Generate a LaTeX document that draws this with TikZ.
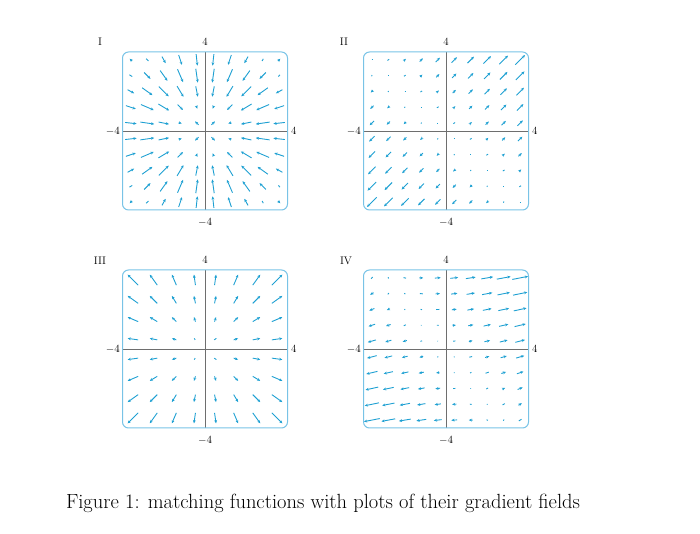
\documentclass[tikz,border=0pt]{standalone}
\usetikzlibrary{arrows.meta}
\definecolor{arr}{RGB}{30,160,210}
\definecolor{boxc}{RGB}{120,195,230}
\definecolor{axc}{RGB}{110,110,110}
\tikzset{vec/.style={arr,line width=0.9pt,-{Stealth[length=3.2pt,width=2.8pt]}},
 vecs/.style={arr,line width=0.9pt},
 pbox/.style={draw=boxc,line width=1pt,rounded corners=6pt},
 axl/.style={axc,line width=0.8pt},
 lab/.style={font=\fontsize{11}{13}\selectfont,inner sep=1pt}}
\newcommand\fieldpanel[5]{%
\foreach \gx in {#3} {\foreach \gy in {#3} {%
 \pgfmathsetmacro\myr{veclen(\gx,\gy)}%
 \pgfmathsetmacro\vx{#4}\pgfmathsetmacro\vy{#5}%
 \pgfmathsetmacro\vlen{veclen(\vx,\vy)}%
 \ifdim\vlen pt>3pt
 \draw[vec] ({#1+20.6*\gx-\vx/2},{#2+19.75*\gy-\vy/2}) -- ++(\vx,\vy);
 \else
 \draw[vecs] ({#1+20.6*\gx-\vx/2-0.3},{#2+19.75*\gy-\vy/2}) -- ++({\vx+0.6},\vy);
 \fi}}}
\newcommand\panelframe[6]{% cx cy name numeral x y
 \draw[axl] (#1-82.5,#2) -- (#1+82.5,#2);
 \draw[axl] (#1,#2-79) -- (#1,#2+79);
 \draw[pbox] (#1-82.5,#2-79) rectangle (#1+82.5,#2+79);
 \node[lab] (#3t) at (#1,#2+89) {4};
 \node[lab] (#3b) at (#1,#2-91) {$-4$};
 \node[lab,anchor=east] (#3l) at (#1-84,#2) {$-4$};
 \node[lab,anchor=west] (#3r) at (#1+85,#2) {4};
 \node[lab] (#3n) at (#5,#6) {#4};}
\begin{document}
\begin{tikzpicture}[x=1pt,y=1pt]
\useasboundingbox (0,0) rectangle (700,534);
\fieldpanel{205}{403}{-3.6,-2.8,-2,-1.2,-0.4,0.4,1.2,2,2.8,3.6}{-14*sin(deg(0.826*(\myr-1)))*\gx/\myr}{-14*sin(deg(0.826*(\myr-1)))*\gy/\myr}
\fieldpanel{446}{403}{-3.6,-2.8,-2,-1.2,-0.4,0.4,1.2,2,2.8,3.6}{1.35*(\gx+\gy)}{1.35*(\gx+\gy)}
\fieldpanel{205}{185}{-3.5,-2.5,-1.5,-0.5,0.5,1.5,2.5,3.5}{3.0*\gx}{3.0*\gy}
\fieldpanel{446}{185}{-3.6,-2.8,-2,-1.2,-0.4,0.4,1.2,2,2.8,3.6}{1.9*(1.3*\gx+\gy)}{1.9*(0.35*\gx+0.1*\gy)}
\panelframe{205}{403}{pa}{I}{100}{492}
\panelframe{446}{403}{pb}{II}{344}{492}
\panelframe{205}{185}{pc}{III}{100}{273}
\panelframe{446}{185}{pd}{IV}{346}{273}
\node[font=\fontsize{20.5}{24}\selectfont,inner sep=0] (cap) at (323,31) {Figure 1: matching functions with plots of their gradient fields};
\end{tikzpicture}
\end{document}
